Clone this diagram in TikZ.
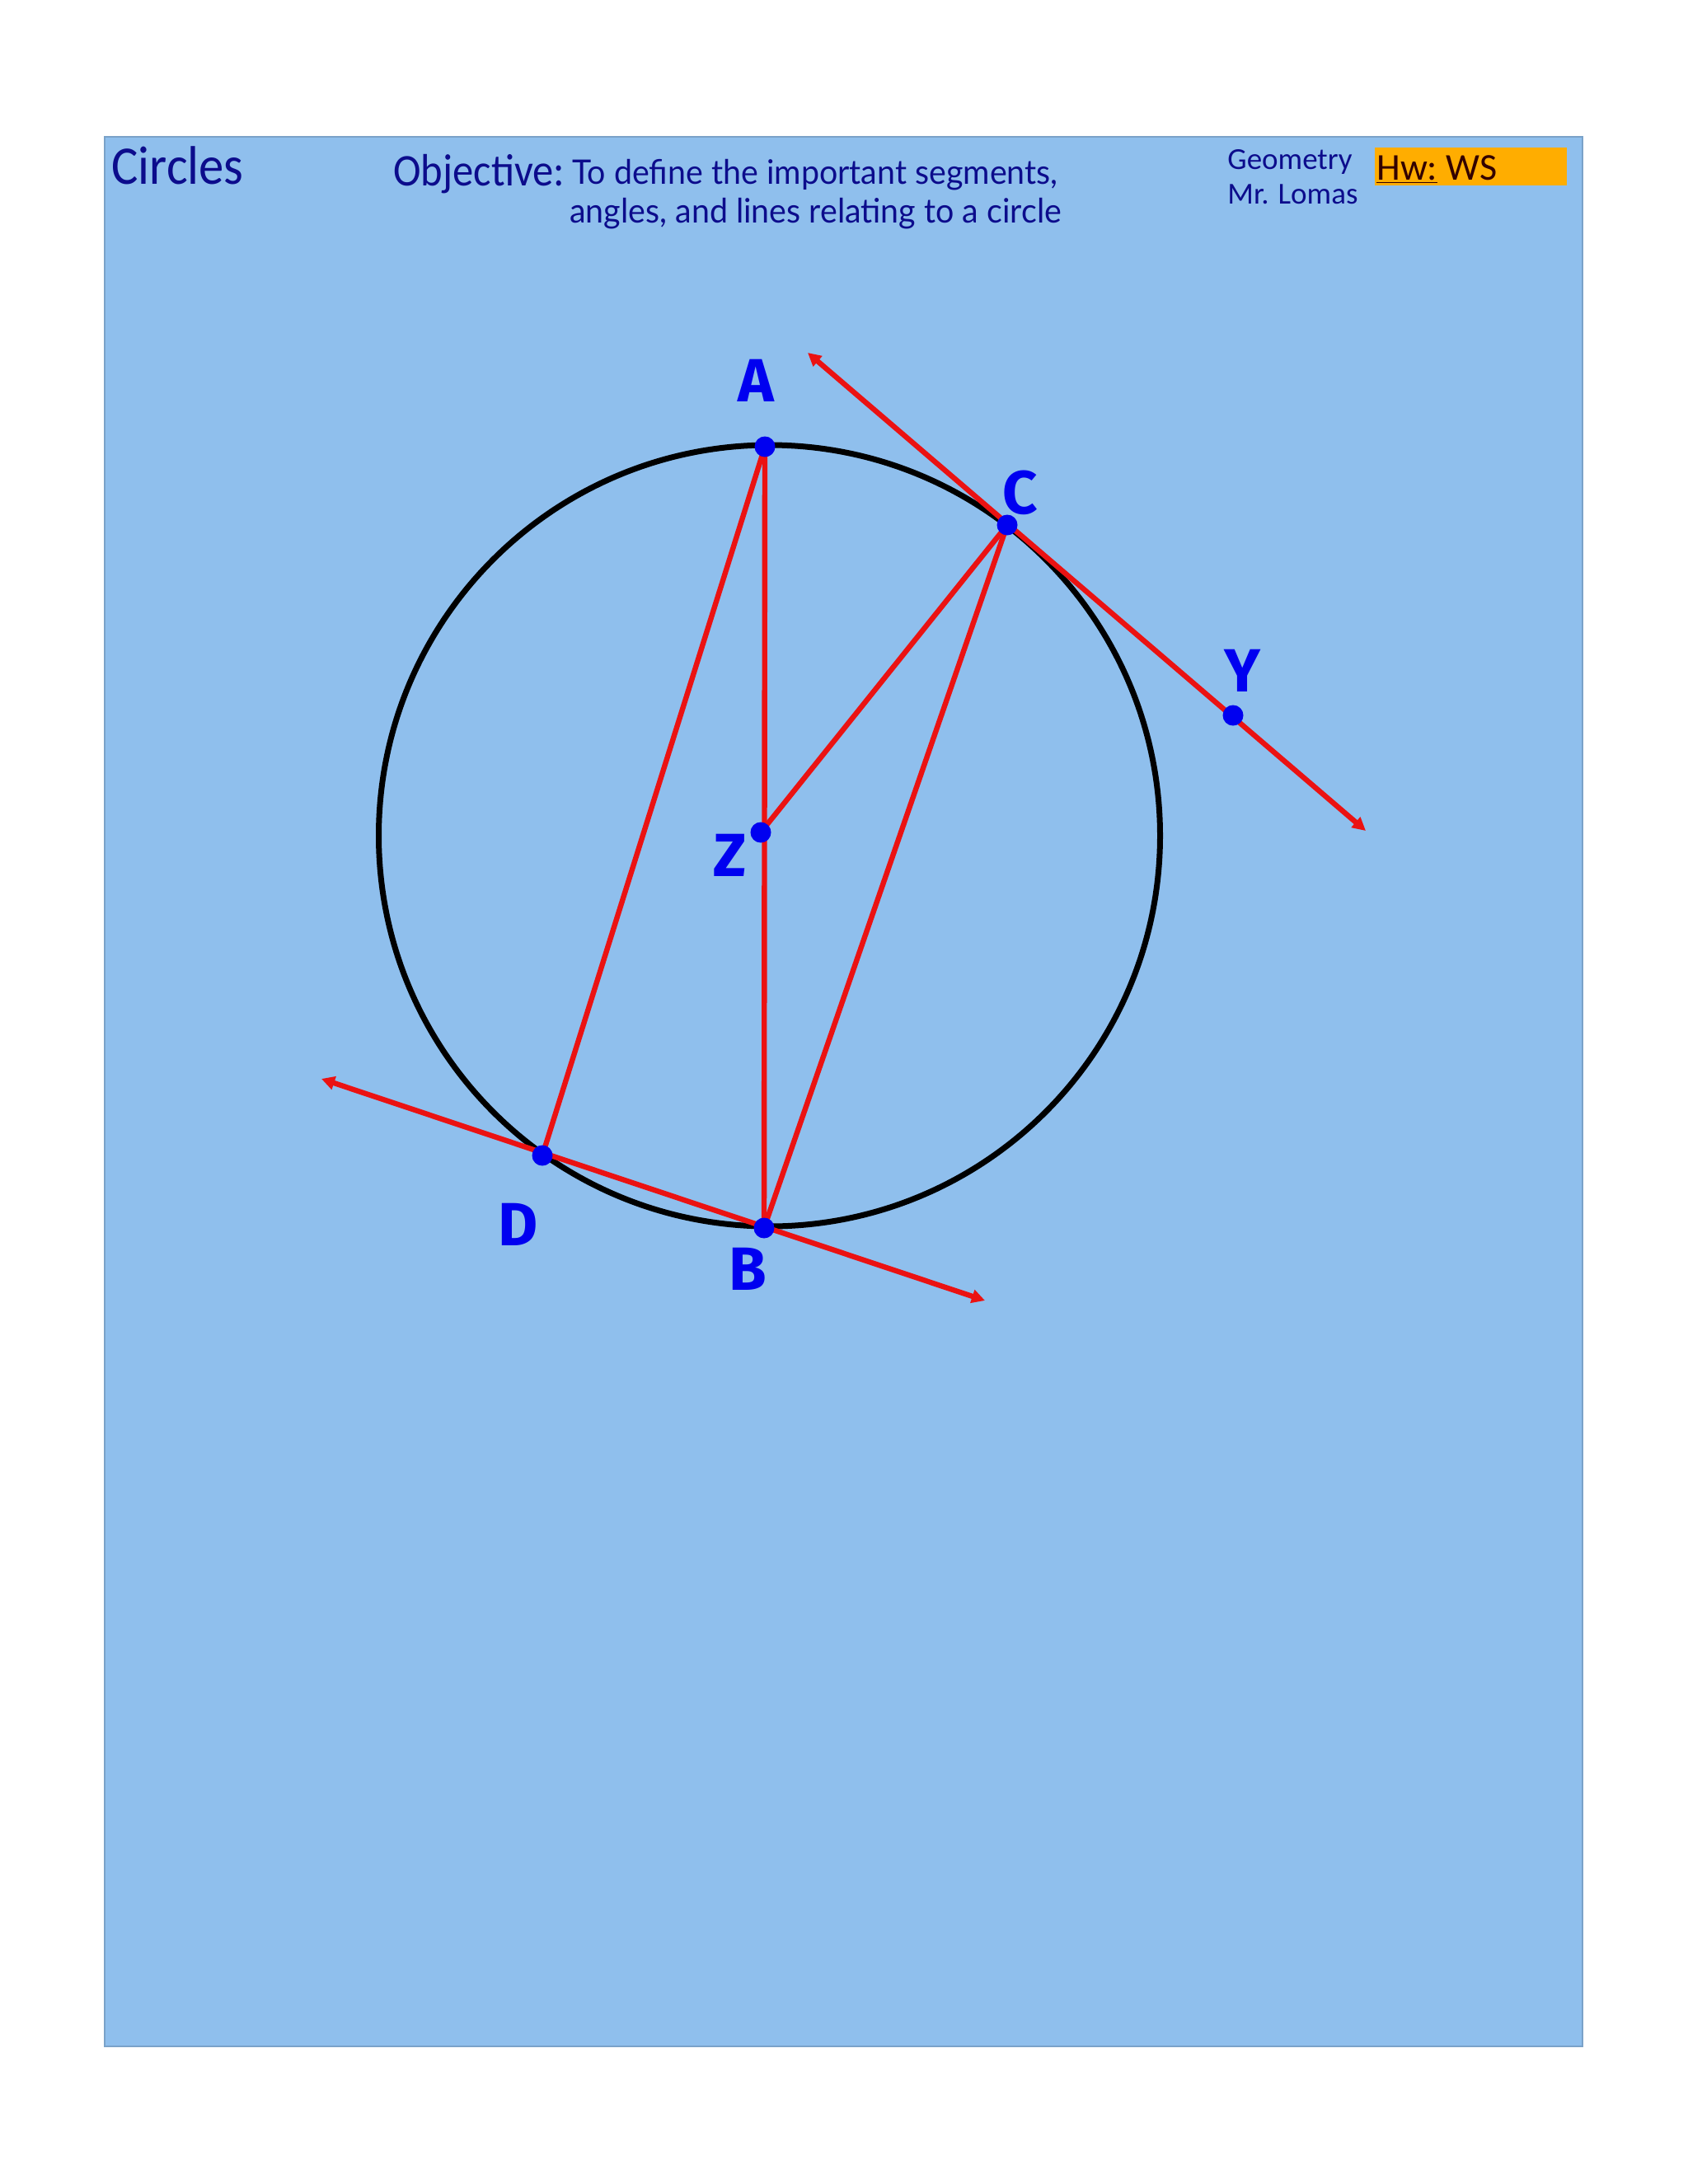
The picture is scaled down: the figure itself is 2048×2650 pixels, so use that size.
\documentclass[tikz,border=0pt]{standalone}
\usepackage{fontspec}
\usetikzlibrary{arrows.meta}
\newfontfamily\lblfont{Fira Sans}
\newfontfamily\titlefont{Carlito}[FakeStretch=0.92]
\newfontfamily\comicfont{Lato}[FakeStretch=0.96]
\newfontfamily\geofont{Carlito}
\definecolor{panelblue}{RGB}{143,191,237}
\definecolor{navy}{RGB}{12,12,140}
\definecolor{ptblue}{RGB}{0,0,240}
\definecolor{lnred}{RGB}{235,18,18}
\definecolor{hworange}{RGB}{255,173,0}
\begin{document}
\begin{tikzpicture}[x=0.5pt,y=-0.5pt,
  redline/.style={draw=lnred,line width=3.2pt,line cap=round},
  rayline/.style={redline,{Triangle[length=8pt,width=8pt]}-{Triangle[length=8pt,width=8pt]}},
  dotnode/.style={circle,fill=ptblue,inner sep=0pt,minimum size=12.5pt},
  ptlabel/.style={text=ptblue,font=\lblfont\bfseries\fontsize{37}{40}\selectfont,inner sep=0pt},
  headtext/.style={text=navy,inner sep=0pt,anchor=base west}]
\useasboundingbox (0,0) rectangle (2048,2650);
\fill[white] (0,0) rectangle (2048,2650);
\filldraw[fill=panelblue,draw=panelblue!85!black,line width=0.8pt] (127,166) rectangle (1920,2483);
% header
\node[headtext,font=\titlefont\fontsize{33}{36}\selectfont] (title) at (135,223) {Circles};
\node[headtext,font=\titlefont\fontsize{27.5}{30}\selectfont] (obj) at (477,225) {Objective:};
\node[headtext,font=\comicfont\fontsize{20.5}{24}\selectfont] (obj1) at (694,223) {To define the important segments,};
\node[headtext,font=\comicfont\fontsize{20.5}{24}\selectfont] (obj2) at (691,270) {angles, and lines relating to a circle};
\node[headtext,font=\geofont\fontsize{18.5}{22}\selectfont] (geo) at (1489,205) {Geometry};
\node[headtext,font=\geofont\fontsize{18.5}{22}\selectfont] (mr) at (1489,247) {Mr. Lomas};
\fill[hworange] (1668,179) rectangle (1901,225);
\node[headtext,text=black!80!red,font=\geofont\fontsize{23}{26}\selectfont] (hw) at (1670,218) {\underline{Hw:} WS};
% circle
\coordinate (O) at (933.5,1014);
\draw[black,line width=3.5pt] (O) circle [radius=237pt];
% points
\coordinate (A) at (928,542);
\coordinate (B) at (927,1490);
\coordinate (C) at (1222,637);
\coordinate (D) at (658,1402);
\coordinate (Y) at (1496,868);
\coordinate (Z) at (923,1010);
\coordinate (Ct1) at (980,428);
\coordinate (Ct2) at (1657,1008);
\coordinate (Bt1) at (390,1309);
\coordinate (Bt2) at (1195,1578);
% segments
\draw[redline] (A) -- (B);
\draw[redline] (A) -- (D);
\draw[redline] (Z) -- (C);
\draw[redline] (C) -- (B);
\draw[rayline] (Ct1) -- (Ct2);
\draw[rayline] (Bt1) -- (Bt2);
% dots
\foreach \p in {A,B,C,D,Y,Z} \node[dotnode] (dot\p) at (\p) {};
% labels
\node[ptlabel] (lA) at (917,462) {A};
\node[ptlabel] (lC) at (1238,598) {C};
\node[ptlabel] (lY) at (1507,814) {Y};
\node[ptlabel] (lZ) at (886,1038) {Z};
\node[ptlabel] (lD) at (629,1486) {D};
\node[ptlabel] (lB) at (907,1540) {B};
\end{tikzpicture}
\end{document}
